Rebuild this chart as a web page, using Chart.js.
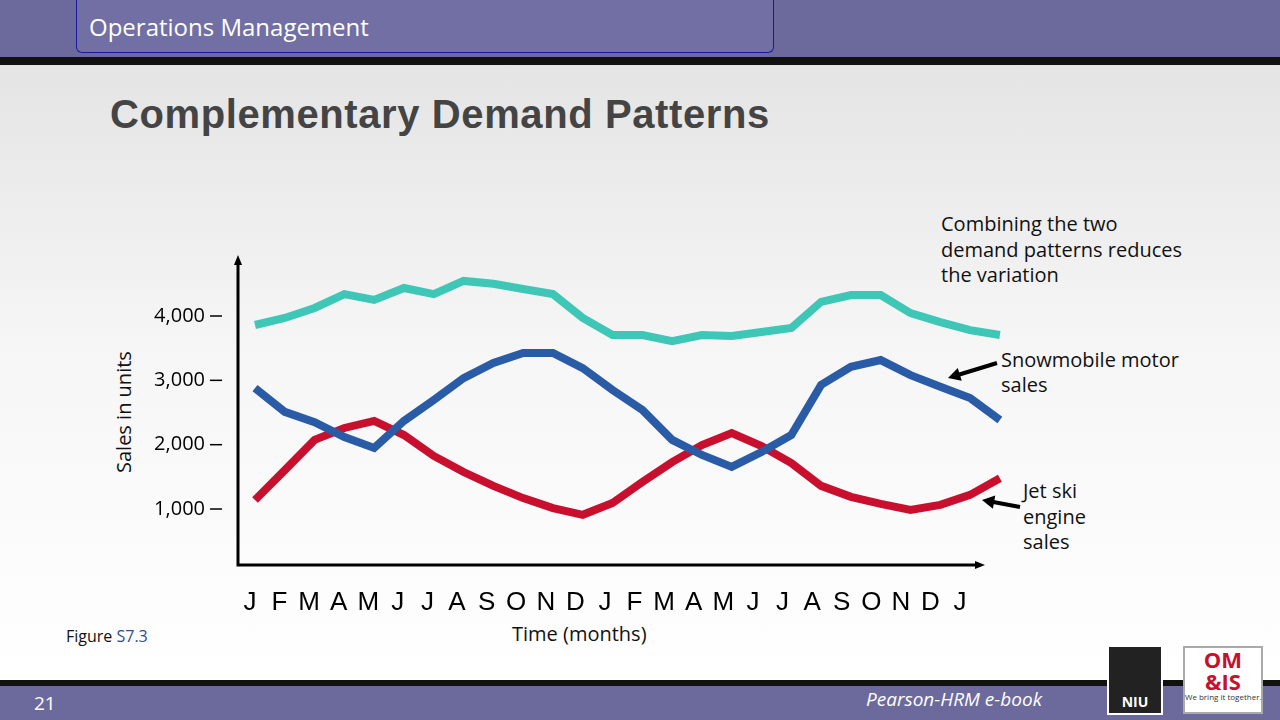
<!DOCTYPE html>
<html><head><meta charset="utf-8">
<script src="https://cdn.jsdelivr.net/npm/chart.js@4"></script>
<style>
body{margin:0;width:1280px;height:720px;overflow:hidden;font-family:"Open Sans",sans-serif;position:relative;background:linear-gradient(#e4e4e4 60px,#f6f6f6 350px,#ffffff 680px);}
.hdr{position:absolute;left:0;top:0;width:1280px;height:57px;background:#6c6a9c;}
.hbox{position:absolute;left:76px;top:0;width:696px;height:52px;border:1.5px solid #1a1aa0;border-top:none;border-radius:0 0 6px 6px;background:#716fa3;}
.hbox span{position:absolute;left:12px;top:10px;color:#fff;font-size:24px;}
.blk{position:absolute;left:0;top:57px;width:1280px;height:8px;background:#111;}
.ftr{position:absolute;left:0;top:680px;width:1280px;height:40px;background:#6c6a9c;border-top:6px solid #111;box-sizing:border-box;}
.t{position:absolute;white-space:nowrap;}
canvas{position:absolute;left:0;top:0;}
</style></head><body>
<div class="hdr"></div><div class="hbox"><span>Operations Management</span></div><div class="blk"></div>
<div class="ftr"></div>
<div class="t" style="left:110px;top:92px;font-size:40px;letter-spacing:0.6px;font-weight:bold;color:#444;font-family:'Liberation Sans',Arial">Complementary Demand Patterns</div>
<div class="t" style="left:941px;top:211px;font-size:20px;line-height:25.5px;color:#111">Combining the two<br>demand patterns reduces<br>the variation</div>
<div class="t" style="left:1001px;top:347px;font-size:20px;line-height:25px;color:#111">Snowmobile motor<br>sales</div>
<div class="t" style="left:1023px;top:478px;font-size:20px;line-height:25.5px;color:#111">Jet ski<br>engine<br>sales</div>
<div class="t" style="left:66px;top:625px;font-size:16px;color:#111">Figure <span style="color:#2d4f8a">S7.3</span></div>
<div class="t" style="left:512px;top:620px;font-size:20px;color:#111">Time (months)</div>
<div class="t" style="left:110px;top:473px;font-size:20px;color:#111;transform:rotate(-90deg);transform-origin:0 0">Sales in units</div>
<div class="t" style="left:34px;top:690px;font-size:19px;color:#fff">21</div>
<div class="t" style="left:866px;top:686px;font-size:19px;color:#fff;font-style:italic">Pearson-HRM e-book</div>
<div class="t" style="left:1107px;top:645px;width:52px;height:66px;background:#222;border:2px solid #fff;color:#fff;font-size:14px;font-weight:bold;text-align:center;line-height:110px">NIU</div>
<div class="t" style="left:1183px;top:646px;width:76px;height:64px;background:#fff;border:2px solid #aaa;color:#c8102e;font-size:22px;font-weight:bold;text-align:center;line-height:22px">OM<br>&amp;IS<div style="font-size:8px;color:#333;line-height:9px;font-weight:normal">We bring it together.</div></div>
<canvas id="c" width="1280" height="720"></canvas>
<script>
const months=["J","F","M","A","M","J","J","A","S","O","N","D","J","F","M","A","M","J","J","A","S","O","N","D","J"];
const yTicks=[1000,2000,3000,4000];
const combined=[3860,3970,4125,4340,4250,4435,4340,4545,4500,4420,4340,3970,3705,3705,3610,3705,3690,3750,3815,4220,4325,4325,4045,3905,3780,3705];
const snowmobile=[2880,2510,2350,2120,1950,2370,2695,3035,3270,3425,3425,3190,2850,2540,2075,1840,1655,1885,2150,2930,3210,3315,3080,2900,2725,2385];
const jetski=[1140,1605,2075,2260,2370,2150,1825,1575,1360,1170,1015,910,1095,1420,1730,1995,2180,1980,1715,1360,1190,1080,985,1065,1220,1480];
const pts=a=>a.map((v,i)=>({x:i,y:v}));
const deco={id:'deco',afterDatasetsDraw(ch){
 const c=ch.ctx,a=ch.chartArea,xs=ch.scales.x,ys=ch.scales.y;
 c.save();c.strokeStyle='#000';c.fillStyle='#000';c.lineWidth=3;
 c.beginPath();c.moveTo(a.left,a.top+8);c.lineTo(a.left,a.bottom);c.lineTo(a.right-8,a.bottom);c.stroke();
 c.beginPath();c.moveTo(a.left,a.top);c.lineTo(a.left-4,a.top+10);c.lineTo(a.left+4,a.top+10);c.fill();
 c.beginPath();c.moveTo(a.right,a.bottom);c.lineTo(a.right-10,a.bottom-4);c.lineTo(a.right-10,a.bottom+4);c.fill();
 c.font='20px "Open Sans"';c.textBaseline='middle';c.textAlign='right';c.lineWidth=1.5;
 yTicks.forEach(v=>{const y=ys.getPixelForValue(v);c.fillText(v.toLocaleString('en-US'),a.left-33,y);c.beginPath();c.moveTo(a.left-28,y);c.lineTo(a.left-16,y);c.stroke();});
 c.textAlign='center';c.font='26px "Liberation Sans"';
 months.forEach((m,i)=>c.fillText(m,xs.getPixelForValue(i*0.993-0.17),603));
 const arr=(x1,y1,x2,y2)=>{c.lineWidth=4;c.beginPath();c.moveTo(x1,y1);c.lineTo(x2+6*(x1-x2)/Math.hypot(x1-x2,y1-y2),y2+6*(y1-y2)/Math.hypot(x1-x2,y1-y2));c.stroke();
  const ang=Math.atan2(y2-y1,x2-x1);c.beginPath();c.moveTo(x2,y2);c.lineTo(x2-14*Math.cos(ang-0.5),y2-14*Math.sin(ang-0.5));c.lineTo(x2-14*Math.cos(ang+0.5),y2-14*Math.sin(ang+0.5));c.fill();};
 arr(997,363,948,378);arr(1020,507,982,500);
 c.restore();}};
new Chart(document.getElementById('c'),{type:'line',
 data:{datasets:[
  {data:pts(combined),borderColor:'#3ec6b6',borderWidth:8,pointRadius:0,tension:0,clip:false},
  {data:pts(snowmobile),borderColor:'#2a5ba6',borderWidth:8,pointRadius:0,tension:0,clip:false},
  {data:pts(jetski),borderColor:'#c8102e',borderWidth:8,pointRadius:0,tension:0,clip:false}]},
 options:{responsive:false,animation:false,events:[],
  layout:{padding:{left:238,right:295,top:255,bottom:155}},
  plugins:{legend:{display:false},tooltip:{enabled:false}},
  scales:{x:{type:'linear',min:-0.57,max:24.5,display:false},y:{min:130,max:4948,display:false}}},
 plugins:[deco]});
</script></body></html>
